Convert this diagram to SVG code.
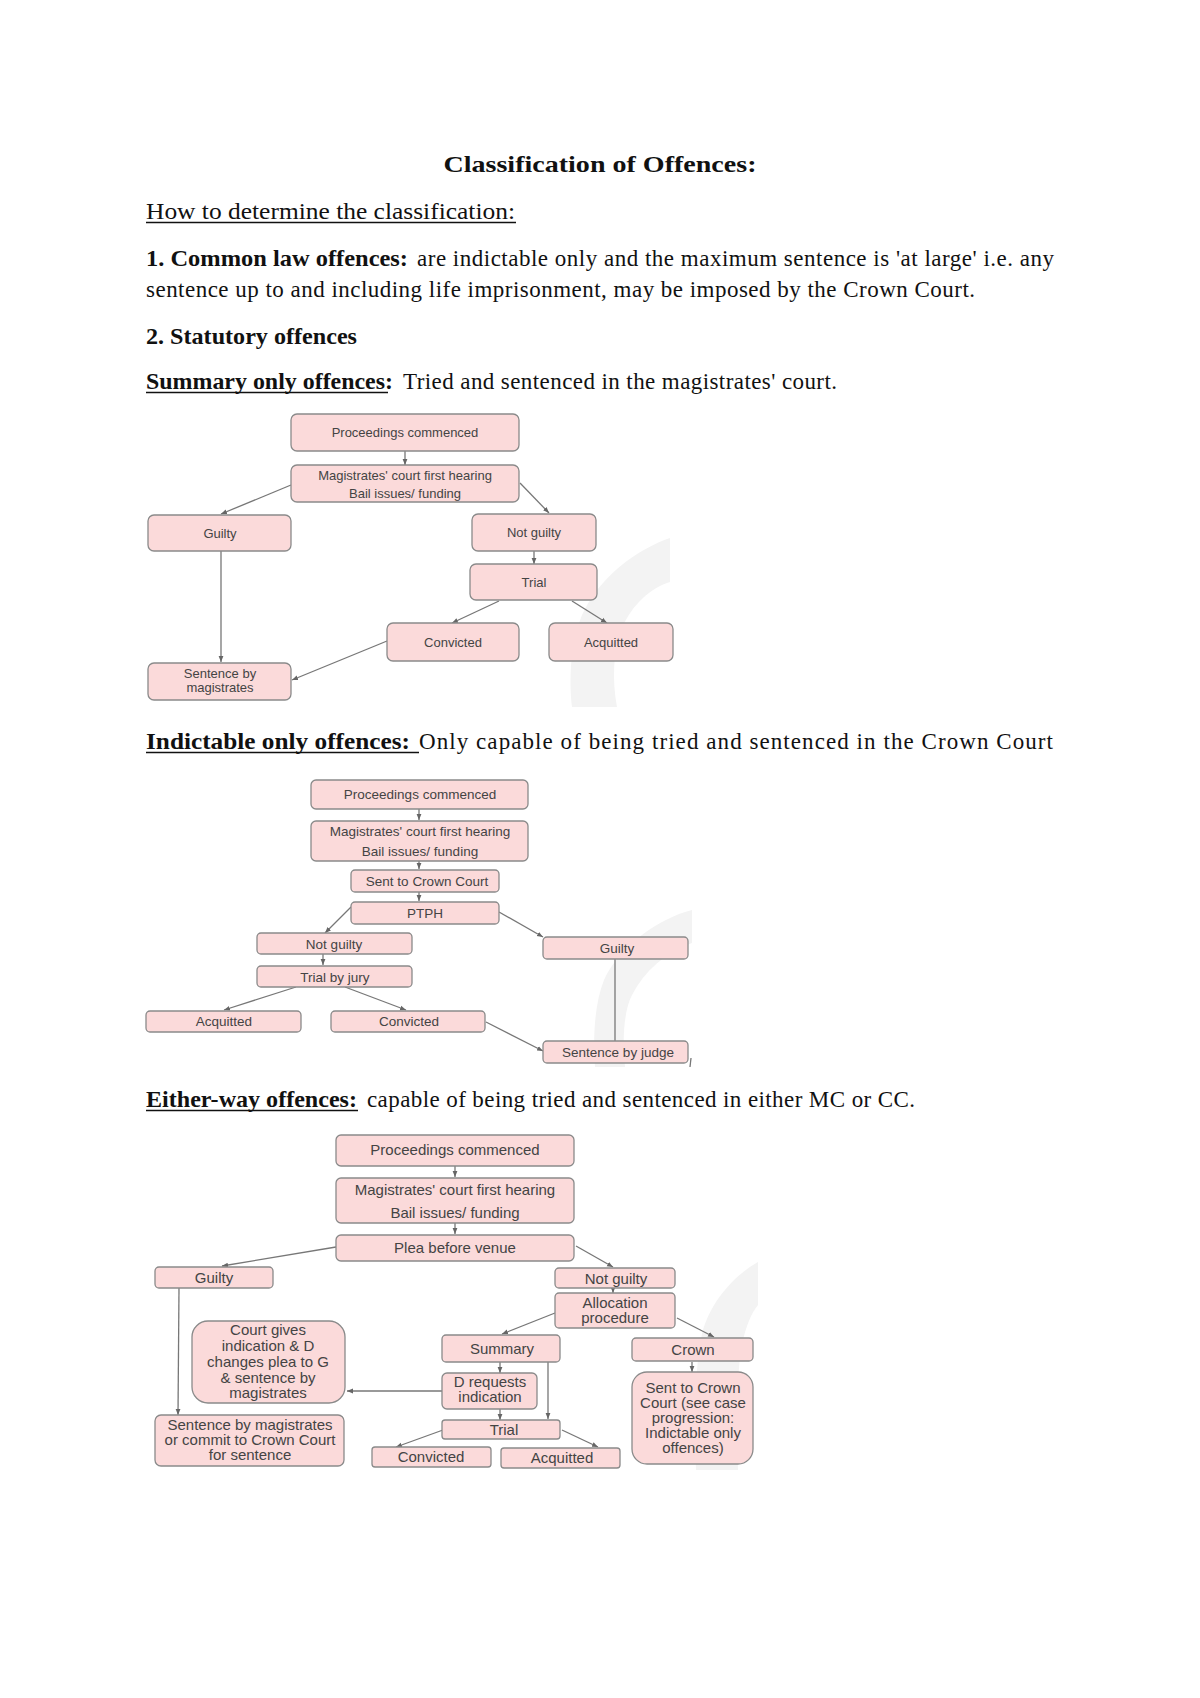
<svg xmlns="http://www.w3.org/2000/svg" width="1200" height="1698" viewBox="0 0 1200 1698">
<style>
.body{font-family:"Liberation Serif","Times New Roman",serif;font-size:23px;fill:#111}
.b{font-weight:bold}
.ul{stroke:#111;stroke-width:1.4}
.box{fill:#fbdada;stroke:#8a8a8a;stroke-width:1.3}
.t{font-family:"Liberation Sans",Arial,sans-serif;fill:#444;text-anchor:middle}
.s1{font-size:13px}
.s2{font-size:13.5px}
.s3{font-size:15px}
.c{stroke:#777;stroke-width:1.3;fill:none}
.wm{fill:#f3f3f3}
</style>
<defs>
<marker id="ah" viewBox="0 0 10 10" refX="10" refY="5" markerWidth="6" markerHeight="6" markerUnits="userSpaceOnUse" orient="auto">
<path d="M0,1 L10,5 L0,9 z" fill="#666"/>
</marker>
</defs>
<rect width="1200" height="1698" fill="#ffffff"/>

<g id="watermarks">
<path class="wm" d="M670,538 C640,548 600,575 582,615 C570,645 569,680 572,707 L617,707 C612,680 613,650 622,628 C632,605 650,588 670,582 Z"/>
<path class="wm" d="M692,910 C660,918 620,945 604,980 C594,1005 593,1040 595,1067 L625,1067 C622,1040 624,1010 632,995 C645,970 665,953 692,943 Z"/>
<path class="wm" d="M758,1262 C735,1275 712,1300 703,1330 C695,1360 694,1420 696,1470 L738,1470 C736,1420 737,1370 742,1345 C746,1325 752,1312 758,1305 Z"/>
</g>

<g id="text">
<text class="body b" x="600" y="172" text-anchor="middle" font-size="24" textLength="313" lengthAdjust="spacingAndGlyphs">Classification of Offences:</text>
<text class="body" x="146" y="219" textLength="369" lengthAdjust="spacingAndGlyphs">How to determine the classification:</text>
<line class="ul" x1="146" y1="222.5" x2="516" y2="222.5"/>
<text class="body b" x="146" y="266" textLength="262" lengthAdjust="spacingAndGlyphs">1. Common law offences:</text>
<text class="body" x="417" y="266" textLength="637">are indictable only and the maximum sentence is 'at large' i.e. any</text>
<text class="body" x="146" y="297" textLength="829">sentence up to and including life imprisonment, may be imposed by the Crown Court.</text>
<text class="body b" x="146" y="344" textLength="211" lengthAdjust="spacingAndGlyphs">2. Statutory offences</text>
<text class="body b" x="146" y="389" textLength="247" lengthAdjust="spacingAndGlyphs">Summary only offences:</text>
<line class="ul" x1="146" y1="392.5" x2="388" y2="392.5"/>
<text class="body" x="403" y="389" textLength="434">Tried and sentenced in the magistrates' court.</text>
<text class="body b" x="146" y="749" textLength="264" lengthAdjust="spacingAndGlyphs">Indictable only offences:</text>
<line class="ul" x1="146" y1="752.5" x2="419" y2="752.5"/>
<text class="body" x="419" y="749" textLength="634">Only capable of being tried and sentenced in the Crown Court</text>
<text class="body b" x="146" y="1107" textLength="211" lengthAdjust="spacingAndGlyphs">Either-way offences:</text>
<line class="ul" x1="146" y1="1110.5" x2="358" y2="1110.5"/>
<text class="body" x="367" y="1107" textLength="548">capable of being tried and sentenced in either MC or CC.</text>
</g>

<g id="connectors">
<line class="c" x1="405" y1="451" x2="405" y2="465" marker-end="url(#ah)"/>
<line class="c" x1="291" y1="485" x2="221" y2="514" marker-end="url(#ah)"/>
<line class="c" x1="520" y1="483" x2="549" y2="513" marker-end="url(#ah)"/>
<line class="c" x1="534" y1="551" x2="534" y2="564" marker-end="url(#ah)"/>
<line class="c" x1="499" y1="601" x2="452" y2="623" marker-end="url(#ah)"/>
<line class="c" x1="572" y1="601" x2="607" y2="623" marker-end="url(#ah)"/>
<line class="c" x1="221" y1="551" x2="221" y2="662" marker-end="url(#ah)"/>
<line class="c" x1="387" y1="641" x2="292" y2="680" marker-end="url(#ah)"/>

<line class="c" x1="419" y1="808" x2="419" y2="820" marker-end="url(#ah)"/>
<line class="c" x1="419" y1="860" x2="419" y2="869" marker-end="url(#ah)"/>
<line class="c" x1="419" y1="891" x2="419" y2="901" marker-end="url(#ah)"/>
<line class="c" x1="351" y1="907" x2="325" y2="933" marker-end="url(#ah)"/>
<line class="c" x1="499" y1="912" x2="543" y2="937" marker-end="url(#ah)"/>
<line class="c" x1="323" y1="954" x2="323" y2="965" marker-end="url(#ah)"/>
<line class="c" x1="296" y1="987" x2="224" y2="1010" marker-end="url(#ah)"/>
<line class="c" x1="345" y1="987" x2="406" y2="1010" marker-end="url(#ah)"/>
<line class="c" x1="615" y1="959" x2="615" y2="1041" stroke-width="2.2"/>
<line class="c" x1="486" y1="1022" x2="543" y2="1051" marker-end="url(#ah)"/>
<line class="c" x1="691" y1="1058" x2="690" y2="1067" stroke-width="1"/>

<line class="c" x1="455" y1="1166" x2="455" y2="1177" marker-end="url(#ah)"/>
<line class="c" x1="455" y1="1223" x2="455" y2="1234" marker-end="url(#ah)"/>
<line class="c" x1="336" y1="1247" x2="222" y2="1266" marker-end="url(#ah)" stroke-width="2"/>
<line class="c" x1="576" y1="1246" x2="613" y2="1267" marker-end="url(#ah)" stroke-width="2"/>
<line class="c" x1="613" y1="1288" x2="613" y2="1293" marker-end="url(#ah)"/>
<line class="c" x1="555" y1="1313" x2="502" y2="1334" marker-end="url(#ah)"/>
<line class="c" x1="677" y1="1318" x2="714" y2="1337" marker-end="url(#ah)"/>
<line class="c" x1="500" y1="1362" x2="500" y2="1373" marker-end="url(#ah)"/>
<line class="c" x1="548" y1="1362" x2="548" y2="1419" marker-end="url(#ah)"/>
<line class="c" x1="500" y1="1409" x2="500" y2="1420" marker-end="url(#ah)"/>
<line class="c" x1="442" y1="1391" x2="347" y2="1391" marker-end="url(#ah)" stroke-width="2"/>
<line class="c" x1="443" y1="1430" x2="396" y2="1447" marker-end="url(#ah)"/>
<line class="c" x1="562" y1="1430" x2="598" y2="1447" marker-end="url(#ah)"/>
<line class="c" x1="692" y1="1362" x2="692" y2="1372" marker-end="url(#ah)"/>
<line class="c" x1="179" y1="1288" x2="178" y2="1415" marker-end="url(#ah)" stroke-width="1.6"/>
</g>

<g id="d1-proceedings"><rect class="box" x="291" y="414" width="228" height="37" rx="6"/><text class="t s1" x="405" y="437">Proceedings commenced</text></g>
<g id="d1-magistrates"><rect class="box" x="291" y="465" width="228" height="37" rx="6"/><text class="t s1" x="405" y="480">Magistrates' court first hearing</text><text class="t s1" x="405" y="498">Bail issues/ funding</text></g>
<g id="d1-guilty"><rect class="box" x="148" y="515" width="143" height="36" rx="6"/><text class="t s1" x="220" y="538">Guilty</text></g>
<g id="d1-notguilty"><rect class="box" x="472" y="514" width="124" height="37" rx="6"/><text class="t s1" x="534" y="537">Not guilty</text></g>
<g id="d1-trial"><rect class="box" x="470" y="564" width="127" height="36" rx="6"/><text class="t s1" x="534" y="587">Trial</text></g>
<g id="d1-convicted"><rect class="box" x="387" y="623" width="132" height="38" rx="6"/><text class="t s1" x="453" y="647">Convicted</text></g>
<g id="d1-acquitted"><rect class="box" x="549" y="623" width="124" height="38" rx="6"/><text class="t s1" x="611" y="647">Acquitted</text></g>
<g id="d1-sentence"><rect class="box" x="148" y="663" width="143" height="37" rx="6"/><text class="t s1" x="220" y="678">Sentence by</text><text class="t s1" x="220" y="692">magistrates</text></g>

<g id="d2-proceedings"><rect class="box" x="311" y="780" width="217" height="29" rx="5"/><text class="t s2" x="420" y="799">Proceedings commenced</text></g>
<g id="d2-magistrates"><rect class="box" x="311" y="821" width="217" height="40" rx="5"/><text class="t s2" x="420" y="836">Magistrates' court first hearing</text><text class="t s2" x="420" y="856">Bail issues/ funding</text></g>
<g id="d2-sent"><rect class="box" x="351" y="870" width="148" height="22" rx="4"/><text class="t s2" x="427" y="886">Sent to Crown Court</text></g>
<g id="d2-ptph"><rect class="box" x="351" y="902" width="148" height="22" rx="4"/><text class="t s2" x="425" y="918">PTPH</text></g>
<g id="d2-notguilty"><rect class="box" x="257" y="933" width="155" height="21" rx="4"/><text class="t s2" x="334" y="949">Not guilty</text></g>
<g id="d2-trialjury"><rect class="box" x="257" y="966" width="155" height="21" rx="4"/><text class="t s2" x="335" y="982">Trial by jury</text></g>
<g id="d2-guilty"><rect class="box" x="543" y="937" width="145" height="22" rx="4"/><text class="t s2" x="617" y="953">Guilty</text></g>
<g id="d2-acquitted"><rect class="box" x="146" y="1011" width="155" height="21" rx="4"/><text class="t s2" x="224" y="1026">Acquitted</text></g>
<g id="d2-convicted"><rect class="box" x="331" y="1011" width="154" height="21" rx="4"/><text class="t s2" x="409" y="1026">Convicted</text></g>
<g id="d2-sentence"><rect class="box" x="543" y="1041" width="145" height="22" rx="4"/><text class="t s2" x="618" y="1057">Sentence by judge</text></g>

<g id="d3-proceedings"><rect class="box" x="336" y="1135" width="238" height="31" rx="5"/><text class="t s3" x="455" y="1155">Proceedings commenced</text></g>
<g id="d3-magistrates"><rect class="box" x="336" y="1178" width="238" height="45" rx="5"/><text class="t s3" x="455" y="1195">Magistrates' court first hearing</text><text class="t s3" x="455" y="1218">Bail issues/ funding</text></g>
<g id="d3-plea"><rect class="box" x="336" y="1235" width="238" height="26" rx="5"/><text class="t s3" x="455" y="1253">Plea before venue</text></g>
<g id="d3-guilty"><rect class="box" x="155" y="1267" width="118" height="21" rx="4"/><text class="t s3" x="214" y="1283">Guilty</text></g>
<g id="d3-notguilty"><rect class="box" x="555" y="1268" width="120" height="20" rx="4"/><text class="t s3" x="616" y="1284">Not guilty</text></g>
<g id="d3-allocation"><rect class="box" x="555" y="1293" width="120" height="35" rx="4"/><text class="t s3" x="615" y="1308">Allocation</text><text class="t s3" x="615" y="1323">procedure</text></g>
<g id="d3-summary"><rect class="box" x="442" y="1335" width="118" height="27" rx="4"/><text class="t s3" x="502" y="1354">Summary</text></g>
<g id="d3-crown"><rect class="box" x="632" y="1338" width="121" height="23" rx="4"/><text class="t s3" x="693" y="1355">Crown</text></g>
<g id="d3-drequests"><rect class="box" x="442" y="1373" width="95" height="36" rx="5"/><text class="t s3" x="490" y="1387">D requests</text><text class="t s3" x="490" y="1402">indication</text></g>
<g id="d3-sentcc"><rect class="box" x="632" y="1372" width="121" height="92" rx="15"/><text class="t s3" x="693" y="1393">Sent to Crown</text><text class="t s3" x="693" y="1408">Court (see case</text><text class="t s3" x="693" y="1423">progression:</text><text class="t s3" x="693" y="1438">Indictable only</text><text class="t s3" x="693" y="1453">offences)</text></g>
<g id="d3-trial"><rect class="box" x="442" y="1420" width="118" height="19" rx="3"/><text class="t s3" x="504" y="1435">Trial</text></g>
<g id="d3-convicted"><rect class="box" x="372" y="1447" width="119" height="20" rx="3"/><text class="t s3" x="431" y="1462">Convicted</text></g>
<g id="d3-acquitted"><rect class="box" x="501" y="1448" width="119" height="20" rx="3"/><text class="t s3" x="562" y="1463">Acquitted</text></g>
<g id="d3-courtgives"><rect class="box" x="192" y="1321" width="153" height="82" rx="16"/><text class="t s3" x="268" y="1335">Court gives</text><text class="t s3" x="268" y="1351">indication &amp; D</text><text class="t s3" x="268" y="1367">changes plea to G</text><text class="t s3" x="268" y="1383">&amp; sentence by</text><text class="t s3" x="268" y="1398">magistrates</text></g>
<g id="d3-sentence"><rect class="box" x="155" y="1415" width="189" height="51" rx="6"/><text class="t s3" x="250" y="1430">Sentence by magistrates</text><text class="t s3" x="250" y="1445">or commit to Crown Court</text><text class="t s3" x="250" y="1460">for sentence</text></g>
</svg>
